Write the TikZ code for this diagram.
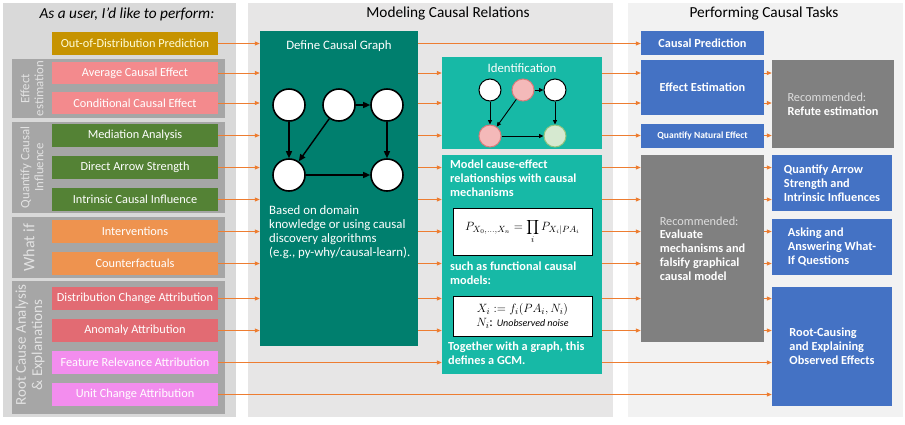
\documentclass[tikz,border=0pt]{standalone}
\usepackage{fontspec}
\setmainfont{Carlito}
\usetikzlibrary{arrows.meta,positioning}

\definecolor{panelleft}{HTML}{D9D9D9}
\definecolor{panelmid}{HTML}{E7E6E6}
\definecolor{panelright}{HTML}{F2F2F2}
\definecolor{groupgray}{HTML}{A6A6A6}
\definecolor{grouptext}{HTML}{E2E2E2}
\definecolor{oodgold}{HTML}{C69300}
\definecolor{effpink}{HTML}{F38A8D}
\definecolor{infgreen}{HTML}{548235}
\definecolor{whatorange}{HTML}{EE934F}
\definecolor{rootred}{HTML}{E26B73}
\definecolor{featpink}{HTML}{F38DEE}
\definecolor{floworange}{HTML}{ED7D31}
\definecolor{darkteal}{HTML}{007F6E}
\definecolor{lightteal}{HTML}{17B9A6}
\definecolor{taskblue}{HTML}{4472C4}
\definecolor{recgray}{HTML}{808080}
\definecolor{reclight}{HTML}{DDDDDD}
\definecolor{nodepink}{HTML}{F4B9B9}
\definecolor{pinkline}{HTML}{D97B7B}
\definecolor{nodegreen}{HTML}{D6E9D0}
\definecolor{greenline}{HTML}{93C47D}

\def\usecasefont{\fontsize{12.3}{14}\selectfont}
\def\headfont{\fontsize{15.3}{17}\selectfont}
\def\groupfont{\fontsize{12.8}{14}\selectfont}
\def\taskfont{\fontsize{12.3}{13.8}\bfseries\selectfont}
\def\notefont{\fontsize{12.8}{14}\selectfont}

\tikzset{
	usecase/.style={minimum width=166pt, minimum height=23pt, inner sep=0pt, text=white, font=\usecasefont},
	groupname/.style={rotate=90, align=center, text=grouptext, font=\groupfont, inner sep=0pt},
	taskbox/.style={fill=taskblue, text=white, inner sep=0pt, align=left, font=\taskfont},
	flow/.style={draw=floworange, line width=0.8pt, -{Triangle[length=5pt,width=4pt]}},
	bignode/.style={circle, draw=black, fill=white, line width=1.6pt, minimum size=32pt, inner sep=0pt},
	bigedge/.style={line width=1.4pt, -{Triangle[length=7pt,width=6pt]}},
	smallnode/.style={circle, draw=black, fill=white, line width=1pt, minimum size=22pt, inner sep=0pt},
	smalledge/.style={line width=0.9pt, -{Triangle[length=4.5pt,width=4pt]}}
}

\begin{document}
\begin{tikzpicture}[x=1pt, y=-1pt]
			%%%%% START %%%%%
			\useasboundingbox (0, 0) rectangle (905, 424);
			
			\fill[panelleft] (3, 3) rectangle (236, 417);
			\fill[panelmid] (248, 3) rectangle (613, 417);
			\fill[panelright] (628, 3) rectangle (903, 417);
			
			\node[font=\headfont\itshape] (usertitle) at (127, 14) {As a user, I'd like to perform:};
			\node[font=\headfont] (modeltitle) at (448, 13) {Modeling Causal Relations};
			\node[font=\headfont] (tasktitle) at (764, 13) {Performing Causal Tasks};
			
			%%%%% USE CASES %%%%%
			\fill[groupgray] (12, 59) rectangle (225, 118);
			\fill[groupgray] (12, 122) rectangle (225, 213);
			\fill[groupgray] (12, 217) rectangle (225, 278);
			\fill[groupgray] (12, 281) rectangle (225, 414);
			
			\node[groupname] (effgroup) at (32, 88.5) {Effect\\estimation};
			\node[groupname] (quantgroup) at (32, 167.5) {Quantify Causal\\Influence};
			\node[groupname, font=\fontsize{16}{17}\selectfont] (whatgroup) at (29, 247.5) {What if};
			\node[groupname, font=\fontsize{15}{16.5}\selectfont] (rootgroup) at (30, 345) {Root Cause Analysis\\\& Explanations};
			
			\node[usecase, fill=oodgold, text=white!85!yellow] (ood) at (135, 43.5) {Out-of-Distribution Prediction};
			\node[usecase, fill=effpink, minimum height=22pt] (ace) at (135, 73) {Average Causal Effect};
			\node[usecase, fill=effpink, minimum height=22pt] (cce) at (135, 103) {Conditional Causal Effect};
			\node[usecase, fill=infgreen] (med) at (135, 135.5) {Mediation Analysis};
			\node[usecase, fill=infgreen] (das) at (135, 167.5) {Direct Arrow Strength};
			\node[usecase, fill=infgreen] (ici) at (135, 199.5) {Intrinsic Causal Influence};
			\node[usecase, fill=whatorange] (intv) at (135, 231.5) {Interventions};
			\node[usecase, fill=whatorange] (cf) at (135, 263.5) {Counterfactuals};
			\node[usecase, fill=rootred] (dca) at (135, 298.5) {Distribution Change Attribution};
			\node[usecase, fill=rootred] (anom) at (135, 330.5) {Anomaly Attribution};
			\node[usecase, fill=featpink] (fra) at (135, 362.5) {Feature Relevance Attribution};
			\node[usecase, fill=featpink] (uca) at (135, 394.5) {Unit Change Attribution};
			
			%%%%% MODELING %%%%%
			\node[fill=darkteal, minimum width=158pt, minimum height=315pt, inner sep=0pt] (defgraph) at (339, 188.5) {};
			\node[text=white, font=\notefont] (deftitle) at (339, 46) {Define Causal Graph};
			\node[bignode] (ga) at (289, 105) {};
			\node[bignode] (gb) at (339, 105) {};
			\node[bignode] (gc) at (387, 105) {};
			\node[bignode] (gd) at (289, 175) {};
			\node[bignode] (ge) at (387, 175) {};
			\draw[bigedge] (ga) -- (gd);
			\draw[bigedge] (gb) -- (gc);
			\draw[bigedge] (gb) -- (gd);
			\draw[bigedge] (gc) -- (ge);
			\draw[bigedge] (gd) -- (ge);
			\node[anchor=north west, align=left, text=white, font=\notefont, inner sep=0pt] (defnote) at (269, 205) {Based on domain\\knowledge or using causal\\discovery algorithms\\(e.g., py-why/causal-learn).};
			
			\node[fill=lightteal, minimum width=160pt, minimum height=92pt, inner sep=0pt] (ident) at (522, 103) {};
			\node[text=white, font=\notefont] (identtitle) at (522, 68) {Identification};
			\node[smallnode] (ia) at (490, 90) {};
			\node[smallnode, fill=nodepink, draw=pinkline] (ib) at (523, 90) {};
			\node[smallnode] (ic) at (555, 90) {};
			\node[smallnode, fill=nodepink, draw=pinkline] (id) at (490, 136) {};
			\node[smallnode, fill=nodegreen, draw=greenline] (ie) at (555, 136) {};
			\draw[smalledge] (ia) -- (id);
			\draw[smalledge] (ib) -- (ic);
			\draw[smalledge] (ib) -- (id);
			\draw[smalledge] (ic) -- (ie);
			\draw[smalledge] (id) -- (ie);
			
			\node[fill=lightteal, minimum width=160pt, minimum height=219pt, inner sep=0pt] (mech) at (522, 264.5) {};
			\node[anchor=north west, align=left, text=white, font=\fontsize{12.3}{13.6}\bfseries\selectfont, inner sep=0pt] (mechnote) at (450, 160) {Model cause-effect\\relationships with causal\\mechanisms};
			\node[draw=black, fill=white, line width=0.8pt, minimum width=139pt, minimum height=47pt, inner sep=0pt, font=\fontsize{13}{14}\selectfont] (factor) at (522.5, 231.5) {$\displaystyle P_{X_0,\ldots,X_n} = \prod_i P_{X_i|PA_i}$};
			\node[anchor=north west, align=left, text=white, font=\fontsize{12.3}{13.6}\bfseries\selectfont, inner sep=0pt] (fcmnote) at (450, 262) {such as functional causal\\models:};
			\node[draw=black, fill=white, line width=0.8pt, minimum width=139pt, minimum height=40pt, inner sep=0pt, align=center, font=\fontsize{13}{14.5}\selectfont] (fcm) at (522.5, 316) {$X_i \mathrel{:=} f_i(PA_i, N_i)$\\$N_i$: {\fontsize{10}{11}\selectfont\itshape Unobserved noise}};
			\node[anchor=north west, align=left, text=white, font=\fontsize{12.3}{13.6}\bfseries\selectfont, inner sep=0pt] (gcmnote) at (448, 342) {Together with a graph, this\\defines a GCM.};
			
			%%%%% TASKS %%%%%
			\node[taskbox, minimum width=123pt, minimum height=24pt] (pred) at (702.5, 43) {Causal Prediction};
			\node[taskbox, minimum width=123pt, minimum height=55pt] (effest) at (702.5, 87.5) {Effect Estimation};
			\node[taskbox, minimum width=123pt, minimum height=24pt, font=\fontsize{9.5}{11}\bfseries\selectfont] (natural) at (702.5, 136) {Quantify Natural Effect};
			\node[taskbox, fill=recgray, minimum width=123pt, minimum height=187pt] (evalrec) at (702.5, 248.5) {{\mdseries\color{reclight}Recommended:}\\Evaluate\\mechanisms and\\falsify graphical\\causal model};
			\node[taskbox, fill=recgray, minimum width=122pt, minimum height=88pt] (refute) at (833, 104) {{\mdseries\color{reclight}Recommended:}\\Refute estimation};
			\node[taskbox, minimum width=120pt, minimum height=56pt] (arrowstr) at (832, 183) {Quantify Arrow\\Strength and\\Intrinsic Influences};
			\node[taskbox, minimum width=120pt, minimum height=56pt] (whatif) at (832, 247) {Asking and\\Answering What-\\If Questions};
			\node[taskbox, minimum width=120pt, minimum height=119pt] (rootcause) at (832, 346.5) {Root-Causing\\and Explaining\\Observed Effects};
			
			%%%%% ARROWS %%%%%
			\draw[flow] (ood.east) -- (ood -| defgraph.west);
			\draw[flow] (ace.east) -- (ace -| defgraph.west);
			\draw[flow] (cce.east) -- (cce -| defgraph.west);
			\draw[flow] (med.east) -- (med -| defgraph.west);
			\draw[flow] (das.east) -- (das -| defgraph.west);
			\draw[flow] (ici.east) -- (ici -| defgraph.west);
			\draw[flow] (intv.east) -- (intv -| defgraph.west);
			\draw[flow] (cf.east) -- (cf -| defgraph.west);
			\draw[flow] (dca.east) -- (dca -| defgraph.west);
			\draw[flow] (anom.east) -- (anom -| defgraph.west);
			\draw[flow] (fra.east) -- (fra -| mech.west);
			\draw[flow] (uca.east) -- (uca -| rootcause.west);
			
			\draw[flow] (ood -| defgraph.east) -- (ood -| pred.west);
			\draw[flow] (ace -| defgraph.east) -- (ace -| ident.west);
			\draw[flow] (cce -| defgraph.east) -- (cce -| ident.west);
			\draw[flow] (med -| defgraph.east) -- (med -| ident.west);
			\draw[flow] (das -| defgraph.east) -- (das -| mech.west);
			\draw[flow] (ici -| defgraph.east) -- (ici -| mech.west);
			\draw[flow] (intv -| defgraph.east) -- (intv -| mech.west);
			\draw[flow] (cf -| defgraph.east) -- (cf -| mech.west);
			\draw[flow] (dca -| defgraph.east) -- (dca -| mech.west);
			\draw[flow] (anom -| defgraph.east) -- (anom -| mech.west);
			
			\draw[flow] (ace -| ident.east) -- (ace -| effest.west);
			\draw[flow] (cce -| ident.east) -- (cce -| effest.west);
			\draw[flow] (med -| ident.east) -- (med -| natural.west);
			\draw[flow] (das -| mech.east) -- (das -| evalrec.west);
			\draw[flow] (ici -| mech.east) -- (ici -| evalrec.west);
			\draw[flow] (intv -| mech.east) -- (intv -| evalrec.west);
			\draw[flow] (cf -| mech.east) -- (cf -| evalrec.west);
			\draw[flow] (dca -| mech.east) -- (dca -| evalrec.west);
			\draw[flow] (anom -| mech.east) -- (anom -| evalrec.west);
			\draw[flow] (fra -| mech.east) -- (fra -| rootcause.west);
			
			\draw[flow] (ace -| effest.east) -- (ace -| refute.west);
			\draw[flow] (cce -| effest.east) -- (cce -| refute.west);
			\draw[flow] (med -| natural.east) -- (med -| refute.west);
			\draw[flow] (das -| evalrec.east) -- (das -| arrowstr.west);
			\draw[flow] (ici -| evalrec.east) -- (ici -| arrowstr.west);
			\draw[flow] (intv -| evalrec.east) -- (intv -| whatif.west);
			\draw[flow] (cf -| evalrec.east) -- (cf -| whatif.west);
			\draw[flow] (dca -| evalrec.east) -- (dca -| rootcause.west);
			\draw[flow] (anom -| evalrec.east) -- (anom -| rootcause.west);
			%%%%% END %%%%%
\end{tikzpicture}
\end{document}
